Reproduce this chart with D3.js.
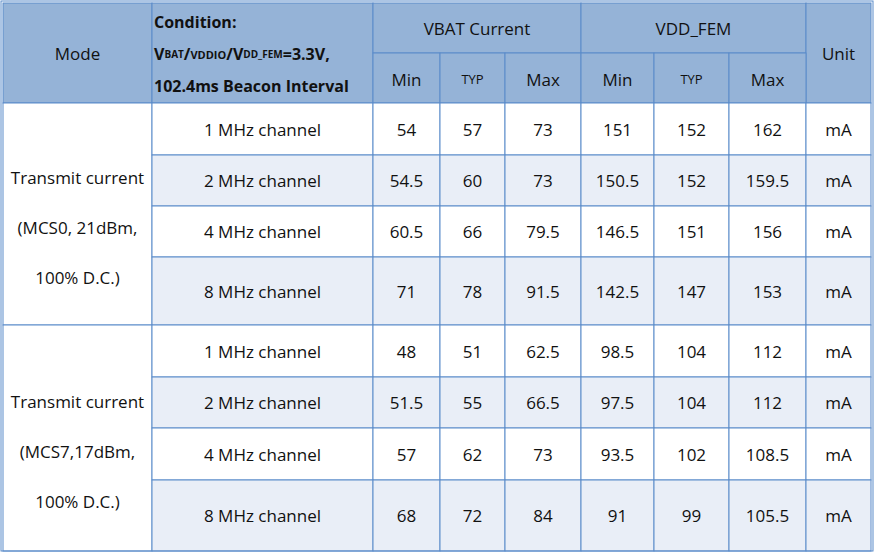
<!DOCTYPE html>
<html><head><meta charset="utf-8">
<script src="https://cdn.jsdelivr.net/npm/d3@7"></script>
<style>body{margin:0;background:#fff}text{font-family:"Open Sans","Liberation Sans",sans-serif}</style>
</head><body><svg id="c" width="874" height="552"></svg>
<script>
const modes = [["Transmit current","(MCS0, 21dBm,","100% D.C.)"],["Transmit current","(MCS7,17dBm,","100% D.C.)"]];
const channels = ["1 MHz channel","2 MHz channel","4 MHz channel","8 MHz channel"];
const vbatMin = [[54,54.5,60.5,71],[48,51.5,57,68]];
const vbatTyp = [[57,60,66,78],[51,55,62,72]];
const vbatMax = [[73,73,79.5,91.5],[62.5,66.5,73,84]];
const femMin = [[151,150.5,146.5,142.5],[98.5,97.5,93.5,91]];
const femTyp = [[152,152,151,147],[104,104,102,99]];
const femMax = [[162,159.5,156,153],[112,112,108.5,105.5]];
const unit = "mA";

const colEdges = [3,152,373,440,505,581,654,729,806,871];
const rowEdges = [103,155,206,257,325,377,428,480,551];
const svg = d3.select("#c");
const border = "#5b8bc9", head = "#95b3d7", alt = "#e9eef7";
const x = i => colEdges[i], w = (a,b) => colEdges[b]-colEdges[a];

function cell(x0,y0,wd,ht,fill){svg.append("rect").attr("x",x0).attr("y",y0).attr("width",wd).attr("height",ht).attr("fill",fill).attr("stroke",border).attr("stroke-width",1);}
function txt(cx,cy,s,opt={}){return svg.append("text").attr("x",cx).attr("y",cy).attr("text-anchor",opt.anchor||"middle").attr("dominant-baseline","central").attr("font-size",opt.size||17).attr("font-weight",opt.bold?"bold":"normal").attr("fill","#111").text(s);}

// header
cell(x(0),3,w(0,1),100,head); txt((x(0)+x(1))/2,53,"Mode");
cell(x(1),3,w(1,2),100,head);
txt(x(1)+2,22,"Condition:",{anchor:"start",bold:true,size:16});
const ct = svg.append("text").attr("x",x(1)+2).attr("y",54).attr("dominant-baseline","central").attr("font-size",16).attr("font-weight","bold").attr("fill","#111");
[["V",16],["BAT",10],["/",16],["VDDIO",11],["/V",16],["DD_FEM",10],["=3.3V,",16]].forEach(([s,f])=>ct.append("tspan").attr("font-size",f).attr("dy",0).text(s));
txt(x(1)+2,86,"102.4ms Beacon Interval",{anchor:"start",bold:true,size:16});
cell(x(2),3,w(2,5),50,head); txt((x(2)+x(5))/2,28,"VBAT Current");
cell(x(5),3,w(5,8),50,head); txt((x(5)+x(8))/2,28,"VDD_FEM");
cell(x(8),3,w(8,9),100,head); txt((x(8)+x(9))/2,53,"Unit");
["Min","TYP","Max","Min","TYP","Max"].forEach((s,i)=>{cell(x(i+2),53,w(i+2,i+3),50,head);txt((x(i+2)+x(i+3))/2,79,s,{size:s==="TYP"?13:17});});

// body
const cols = [vbatMin,vbatTyp,vbatMax,femMin,femTyp,femMax];
modes.forEach((m,g)=>{
  const y0 = rowEdges[g*4], y1 = rowEdges[g*4+4];
  const yc = d3.scaleLinear().domain([0,4]).range([y0,y1]);
  cell(x(0),y0,w(0,1),y1-y0,"#fff");
  const mid=(y0+y1)/2;
  m.forEach((s,k)=>txt((x(0)+x(1))/2,mid-12+(k-0.5)*50+25-25+ (k===0?-0:0),s));
  channels.forEach((ch,r)=>{
    const a=rowEdges[g*4+r], b=rowEdges[g*4+r+1], fill=r%2?alt:"#fff", cy=(a+b)/2;
    cell(x(1),a,w(1,2),b-a,fill); txt((x(1)+x(2))/2,cy,ch);
    cols.forEach((arr,c)=>{cell(x(c+2),a,w(c+2,c+3),b-a,fill);txt((x(c+2)+x(c+3))/2,cy,arr[g][r]);});
    cell(x(8),a,w(8,9),b-a,fill); txt((x(8)+x(9))/2,cy,unit);
  });
});
svg.append("rect").attr("x",1).attr("y",1).attr("width",872).attr("height",550).attr("fill","none").attr("stroke",border);
</script></body></html>
